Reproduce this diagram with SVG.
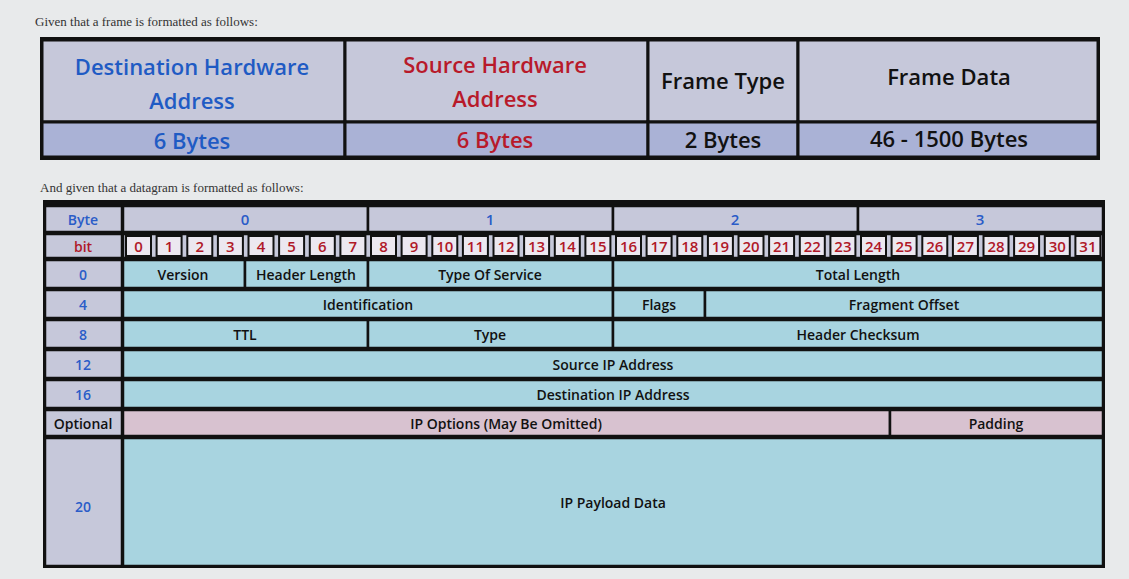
<svg xmlns="http://www.w3.org/2000/svg" width="1129" height="579" viewBox="0 0 1129 579">
<style>
.cap{font-family:"Liberation Serif",serif;font-size:13px;fill:#333}
.t{font-family:"Open Sans","Liberation Sans",sans-serif;font-weight:600;text-anchor:middle;dominant-baseline:central}
.f{font-size:22px}
.s{font-size:14px;fill:#111}
.b{font-size:15px;fill:#b01828}
.n{font-size:15px;fill:#2a5cc8}
.hd{fill:#c6c8da;stroke:#111;stroke-width:3}
.hb{fill:#aab2d6;stroke:#111;stroke-width:3}
.lab{fill:#c6c8da;stroke:#111;stroke-width:2.5}
.bit{fill:#ece8f0;stroke:#111;stroke-width:2}
.c{fill:#a8d4e0;stroke:#111;stroke-width:2.5}
.p{fill:#d8c2d0;stroke:#111;stroke-width:2.5}
</style>
<rect width="1129" height="579" fill="#e8eaeb"/>
<text class="cap" x="35" y="26">Given that a frame is formatted as follows:</text>
<g id="frame">
<rect x="40" y="37" width="1060" height="123" fill="#111"/>
<rect class="hd" x="42" y="40" width="303" height="82"/>
<rect class="hd" x="345" y="40" width="303" height="82"/>
<rect class="hd" x="648" y="40" width="150" height="82"/>
<rect class="hd" x="798" y="40" width="300" height="82"/>
<rect class="hb" x="42" y="122" width="303" height="35"/>
<rect class="hb" x="345" y="122" width="303" height="35"/>
<rect class="hb" x="648" y="122" width="150" height="35"/>
<rect class="hb" x="798" y="122" width="300" height="35"/>
<text class="t f" x="192" y="66" fill="#1f5bc4">Destination Hardware</text>
<text class="t f" x="192" y="100" fill="#1f5bc4">Address</text>
<text class="t f" x="495" y="64" fill="#b81a2a">Source Hardware</text>
<text class="t f" x="495" y="98" fill="#b81a2a">Address</text>
<text class="t f" x="723" y="80" fill="#111">Frame Type</text>
<text class="t f" x="949" y="76" fill="#111">Frame Data</text>
<text class="t f" x="192" y="140" fill="#1f5bc4">6 Bytes</text>
<text class="t f" x="495" y="139" fill="#b81a2a">6 Bytes</text>
<text class="t f" x="723" y="139" fill="#111">2 Bytes</text>
<text class="t f" x="949" y="138" fill="#111">46 - 1500 Bytes</text>
</g>
<text class="cap" x="40" y="192">And given that a datagram is formatted as follows:</text>
<g id="datagram">
<rect x="43" y="200" width="1062" height="368" fill="#111"/>
<g id="labels">
<rect class="lab" x="45" y="206" width="77" height="26"/>
<rect class="lab" x="45" y="234" width="77" height="24"/>
<rect class="lab" x="45" y="260" width="77" height="28"/>
<rect class="lab" x="45" y="290" width="77" height="28"/>
<rect class="lab" x="45" y="320" width="77" height="28"/>
<rect class="lab" x="45" y="350" width="77" height="28"/>
<rect class="lab" x="45" y="380" width="77" height="28"/>
<rect class="lab" x="45" y="410" width="77" height="26"/>
<rect class="lab" x="45" y="438" width="77" height="128"/>
<text class="t s" x="83" y="219" style="fill:#2a5cc8">Byte</text>
<text class="t s" x="83" y="246" style="fill:#b01828">bit</text>
<text class="t s" x="83" y="274" style="fill:#2a5cc8">0</text>
<text class="t s" x="83" y="304" style="fill:#2a5cc8">4</text>
<text class="t s" x="83" y="334" style="fill:#2a5cc8">8</text>
<text class="t s" x="83" y="364" style="fill:#2a5cc8">12</text>
<text class="t s" x="83" y="394" style="fill:#2a5cc8">16</text>
<text class="t s" x="83" y="423">Optional</text>
<text class="t s" x="83" y="506" style="fill:#2a5cc8">20</text>
</g>
<g id="bytes">
<rect class="lab" x="123" y="206" width="245" height="26"/>
<rect class="lab" x="368" y="206" width="245" height="26"/>
<rect class="lab" x="613" y="206" width="245" height="26"/>
<rect class="lab" x="858" y="206" width="245" height="26"/>
<text class="t n" x="245" y="219">0</text>
<text class="t n" x="490" y="219">1</text>
<text class="t n" x="735" y="219">2</text>
<text class="t n" x="980" y="219">3</text>
</g>
<g id="bits">
<rect class="lab" x="123" y="234" width="980" height="24"/>
<g transform="translate(123,236)">
<rect class="bit" x="3" y="0" width="25" height="20"/><rect class="bit" x="33.6" y="0" width="25" height="20"/><rect class="bit" x="64.3" y="0" width="25" height="20"/><rect class="bit" x="94.9" y="0" width="25" height="20"/>
<rect class="bit" x="125.5" y="0" width="25" height="20"/><rect class="bit" x="156.1" y="0" width="25" height="20"/><rect class="bit" x="186.8" y="0" width="25" height="20"/><rect class="bit" x="217.4" y="0" width="25" height="20"/>
<rect class="bit" x="248" y="0" width="25" height="20"/><rect class="bit" x="278.6" y="0" width="25" height="20"/><rect class="bit" x="309.3" y="0" width="25" height="20"/><rect class="bit" x="339.9" y="0" width="25" height="20"/>
<rect class="bit" x="370.5" y="0" width="25" height="20"/><rect class="bit" x="401.1" y="0" width="25" height="20"/><rect class="bit" x="431.8" y="0" width="25" height="20"/><rect class="bit" x="462.4" y="0" width="25" height="20"/>
<rect class="bit" x="493" y="0" width="25" height="20"/><rect class="bit" x="523.6" y="0" width="25" height="20"/><rect class="bit" x="554.3" y="0" width="25" height="20"/><rect class="bit" x="584.9" y="0" width="25" height="20"/>
<rect class="bit" x="615.5" y="0" width="25" height="20"/><rect class="bit" x="646.1" y="0" width="25" height="20"/><rect class="bit" x="676.8" y="0" width="25" height="20"/><rect class="bit" x="707.4" y="0" width="25" height="20"/>
<rect class="bit" x="738" y="0" width="25" height="20"/><rect class="bit" x="768.6" y="0" width="25" height="20"/><rect class="bit" x="799.3" y="0" width="25" height="20"/><rect class="bit" x="829.9" y="0" width="25" height="20"/>
<rect class="bit" x="860.5" y="0" width="25" height="20"/><rect class="bit" x="891.1" y="0" width="25" height="20"/><rect class="bit" x="921.8" y="0" width="25" height="20"/><rect class="bit" x="952.4" y="0" width="25" height="20"/>
<g class="t b">
<text x="15.5" y="10">0</text><text x="46.1" y="10">1</text><text x="76.8" y="10">2</text><text x="107.4" y="10">3</text>
<text x="138" y="10">4</text><text x="168.6" y="10">5</text><text x="199.3" y="10">6</text><text x="229.9" y="10">7</text>
<text x="260.5" y="10">8</text><text x="291.1" y="10">9</text><text x="321.8" y="10">10</text><text x="352.4" y="10">11</text>
<text x="383" y="10">12</text><text x="413.6" y="10">13</text><text x="444.3" y="10">14</text><text x="474.9" y="10">15</text>
<text x="505.5" y="10">16</text><text x="536.1" y="10">17</text><text x="566.8" y="10">18</text><text x="597.4" y="10">19</text>
<text x="628" y="10">20</text><text x="658.6" y="10">21</text><text x="689.3" y="10">22</text><text x="719.9" y="10">23</text>
<text x="750.5" y="10">24</text><text x="781.1" y="10">25</text><text x="811.8" y="10">26</text><text x="842.4" y="10">27</text>
<text x="873" y="10">28</text><text x="903.6" y="10">29</text><text x="934.3" y="10">30</text><text x="964.9" y="10">31</text>
</g>
</g>
</g>
<g id="fields">
<rect class="c" x="123" y="260" width="122" height="28"/>
<rect class="c" x="245" y="260" width="123" height="28"/>
<rect class="c" x="368" y="260" width="245" height="28"/>
<rect class="c" x="613" y="260" width="490" height="28"/>
<rect class="c" x="123" y="290" width="490" height="28"/>
<rect class="c" x="613" y="290" width="92" height="28"/>
<rect class="c" x="705" y="290" width="398" height="28"/>
<rect class="c" x="123" y="320" width="245" height="28"/>
<rect class="c" x="368" y="320" width="245" height="28"/>
<rect class="c" x="613" y="320" width="490" height="28"/>
<rect class="c" x="123" y="350" width="980" height="28"/>
<rect class="c" x="123" y="380" width="980" height="28"/>
<rect class="p" x="123" y="410" width="767" height="26"/>
<rect class="p" x="890" y="410" width="213" height="26"/>
<rect class="c" x="123" y="438" width="980" height="128"/>
<text class="t s" x="183" y="274">Version</text>
<text class="t s" x="306" y="274">Header Length</text>
<text class="t s" x="490" y="274">Type Of Service</text>
<text class="t s" x="858" y="274">Total Length</text>
<text class="t s" x="368" y="304">Identification</text>
<text class="t s" x="659" y="304">Flags</text>
<text class="t s" x="904" y="304">Fragment Offset</text>
<text class="t s" x="245" y="334">TTL</text>
<text class="t s" x="490" y="334">Type</text>
<text class="t s" x="858" y="334">Header Checksum</text>
<text class="t s" x="613" y="364">Source IP Address</text>
<text class="t s" x="613" y="394">Destination IP Address</text>
<text class="t s" x="506" y="423">IP Options (May Be Omitted)</text>
<text class="t s" x="996" y="423">Padding</text>
<text class="t s" x="613" y="502">IP Payload Data</text>
</g>
</g>
</svg>
